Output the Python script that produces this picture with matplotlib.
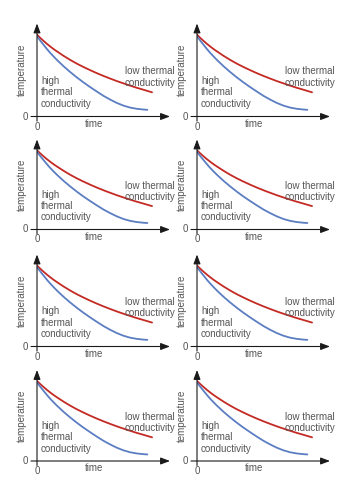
import matplotlib
matplotlib.use("Agg")
import matplotlib.pyplot as plt

plt.rcParams['font.family'] = ['Liberation Sans', 'DejaVu Sans']

# values, as fractions of the axis lengths
t_low = [0, 0.025, 0.05, 0.075, 0.10, 0.125, 0.15, 0.20, 0.25, 0.30, 0.35, 0.40,
         0.45, 0.50, 0.55, 0.60, 0.65, 0.70, 0.75, 0.80, 0.865]
temp_low = [0.88, 0.845, 0.812, 0.781, 0.752, 0.725, 0.700, 0.652, 0.608, 0.568,
            0.532, 0.498, 0.466, 0.436, 0.408, 0.381, 0.356, 0.332, 0.309, 0.288, 0.26]
t_high = [0, 0.025, 0.05, 0.075, 0.10, 0.125, 0.15, 0.20, 0.25, 0.30, 0.35, 0.40,
          0.45, 0.50, 0.55, 0.60, 0.65, 0.70, 0.75, 0.80, 0.83]
temp_high = [0.863, 0.815, 0.770, 0.725, 0.683, 0.645, 0.608, 0.540, 0.478, 0.420,
             0.366, 0.316, 0.268, 0.222, 0.182, 0.146, 0.117, 0.096, 0.083, 0.075, 0.072]

low_label = "low thermal\nconductivity"
high_label = "high\nthermal\nconductivity"
xlabel = "time"
ylabel = "temperature"

W, H = 353, 500
cols = [37, 197]
rows = [(116.5, 23.5), (229.5, 139.5), (346.5, 254.5), (461, 370)]

red = "#c42a24"
blue = "#5b7dc2"
txt = "#555555"
axc = "#1a1a1a"

fig = plt.figure(figsize=(W / 100, H / 100), dpi=100)

for (y0, ytop) in rows:
    for x0 in cols:
        ax = fig.add_axes([x0 / W, (H - y0) / H, 133 / W, (y0 - ytop) / H])
        ax.set_xlim(0, 1)
        ax.set_ylim(0, 1)
        ax.axis('off')

        ax.plot(t_low, temp_low, color=red, lw=1.3, solid_capstyle='round',
                solid_joinstyle='round')
        ax.plot(t_high, temp_high, color=blue, lw=1.3, solid_capstyle='round',
                solid_joinstyle='round')

        arr = dict(arrowstyle='-|>,head_length=0.8,head_width=0.3', color=axc,
                   lw=0.8, mutation_scale=7, shrinkA=0, shrinkB=0)
        ax.annotate("", xy=(1, 0), xytext=(-0.045, 0), arrowprops=arr,
                    annotation_clip=False)
        ax.annotate("", xy=(0, 1), xytext=(0, -0.05), arrowprops=arr,
                    annotation_clip=False)

        ax.text(0.66, 0.425, low_label, fontsize=7, color=txt, va='center',
                ha='left', linespacing=1.15)
        ax.text(0.03, 0.26, high_label, fontsize=7, color=txt, va='center',
                ha='left', linespacing=1.15)
        ax.text(-0.115, 0.5, ylabel, fontsize=7, color=txt, rotation=90,
                va='center', ha='center')
        ax.text(0.43, -0.08, xlabel, fontsize=7, color=txt, va='center',
                ha='center')
        ax.text(-0.09, 0, "0", fontsize=7, color=txt, va='center', ha='center')
        ax.text(0, -0.11, "0", fontsize=7, color=txt, va='center', ha='center')

fig.savefig("out.png", dpi=100, facecolor='white')
